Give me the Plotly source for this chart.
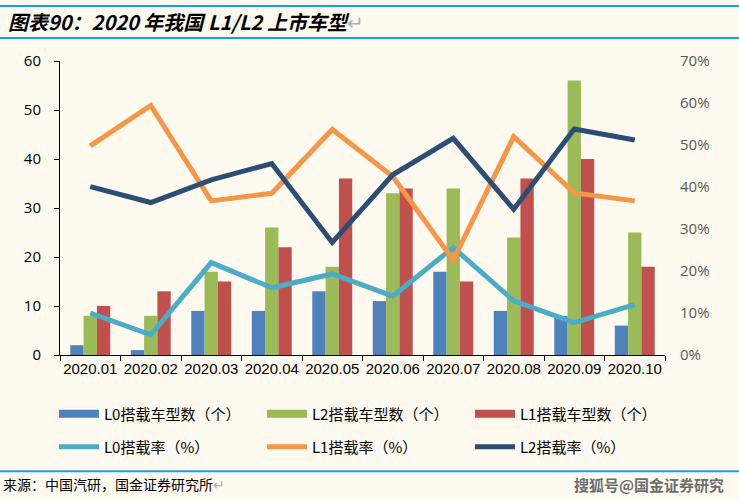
import plotly.graph_objects as go

months = ["2020.01", "2020.02", "2020.03", "2020.04", "2020.05",
          "2020.06", "2020.07", "2020.08", "2020.09", "2020.10"]
l0_count = [2, 1, 9, 9, 13, 11, 17, 9, 8, 6]
l2_count = [8, 8, 17, 26, 18, 33, 34, 24, 56, 25]
l1_count = [10, 13, 15, 22, 36, 34, 15, 36, 40, 18]
l0_rate = [0.100, 0.048, 0.220, 0.160, 0.193, 0.140, 0.256, 0.129, 0.077, 0.120]
l1_rate = [0.498, 0.594, 0.367, 0.385, 0.537, 0.425, 0.226, 0.520, 0.386, 0.367]
l2_rate = [0.401, 0.363, 0.417, 0.456, 0.268, 0.429, 0.516, 0.347, 0.538, 0.512]

BG = "#FEFAEF"
C_L0B, C_L2B, C_L1B = "#4F81BD", "#9BBB59", "#C0504D"
C_L0R, C_L1R, C_L2R = "#4BACC6", "#F79646", "#2C4D75"
CJK = "Noto Sans CJK SC"

fig = go.Figure()
for name, vals, col in [("L0搭载车型数（个）", l0_count, C_L0B),
                        ("L2搭载车型数（个）", l2_count, C_L2B),
                        ("L1搭载车型数（个）", l1_count, C_L1B)]:
    fig.add_trace(go.Bar(x=months, y=vals, marker=dict(color=col, line_width=0),
                         showlegend=False, legendgroup=name, yaxis="y"))
    fig.add_trace(go.Scatter(x=[None], y=[None], mode="lines", name=name,
                             line=dict(color=col, width=8), legendgroup=name,
                             legend="legend"))

for name, vals, col in [("L0搭载率（%）", l0_rate, C_L0R),
                        ("L1搭载率（%）", l1_rate, C_L1R),
                        ("L2搭载率（%）", l2_rate, C_L2R)]:
    fig.add_trace(go.Scatter(x=months, y=vals, mode="lines", name=name,
                             line=dict(color=col, width=5), yaxis="y2",
                             legend="legend2"))

fig.update_layout(
    width=739, height=499,
    margin=dict(l=60, r=74, t=61, b=144),
    paper_bgcolor=BG, plot_bgcolor=BG,
    barmode="group", bargap=0.34, bargroupgap=0,
    font=dict(family=CJK, size=14, color="#000000"),
    xaxis=dict(showline=True, linecolor="#000000", linewidth=1,
               ticks="outside", ticklen=5, tickcolor="#000000",
               tickson="boundaries", showgrid=False, tickangle=0,
               tickfont=dict(family="Liberation Sans", size=15, color="#000000")),
    yaxis=dict(range=[0, 60], dtick=10, showline=True, linecolor="#000000",
               linewidth=1, ticks="outside", ticklen=5, tickcolor="#000000",
               showgrid=False, zeroline=False, ticklabelstandoff=10,
               tickfont=dict(family="Open Sans", size=15, color="#000000")),
    yaxis2=dict(range=[0, 0.7], dtick=0.1, tickformat=".0%", overlaying="y",
                side="right", showline=False, showgrid=False, zeroline=False,
                ticks="", ticklabelstandoff=14,
                tickfont=dict(family="Open Sans", size=15, color="#595959")),
    legend=dict(orientation="h", x=-0.01, xanchor="left", y=-0.2007, yanchor="middle",
                entrywidth=153, itemwidth=40, bgcolor="rgba(0,0,0,0)",
                font=dict(family=CJK, size=15, color="#000000"),
                traceorder="normal"),
    legend2=dict(orientation="h", x=-0.01, xanchor="left", y=-0.313, yanchor="middle",
                 entrywidth=153, itemwidth=40, bgcolor="rgba(0,0,0,0)",
                 font=dict(family=CJK, size=15, color="#000000"),
                 traceorder="normal"),
    shapes=[
        dict(type="line", xref="paper", yref="paper", x0=-0.0992, x1=1.1223, y0=1.1869, y1=1.1869,
             line=dict(color="#19A0DC", width=2), layer="below"),
        dict(type="line", xref="paper", yref="paper", x0=-0.0992, x1=1.1223, y0=1.078, y1=1.078,
             line=dict(color="#19A0DC", width=2), layer="below"),
        dict(type="line", xref="paper", yref="paper", x0=-0.0992, x1=1.1223, y0=-0.395, y1=-0.395,
             line=dict(color="#19A0DC", width=2), layer="below"),
    ],
    annotations=[
        dict(text="<b><i>图表90：2020 年我国 L1/L2 上市车型</i></b><span style='color:#B0B0B0'>↵</span>",
             xref="paper", yref="paper", x=-0.09, y=1.133, xanchor="left", yanchor="middle",
             showarrow=False, font=dict(family=CJK, size=20, color="#000000")),
        dict(text="来源：中国汽研，国金证券研究所<span style='color:#B0B0B0'>↵</span>",
             xref="paper", yref="paper", x=-0.098, y=-0.44, xanchor="left", yanchor="middle",
             showarrow=False, font=dict(family=CJK, size=14, color="#000000")),
        dict(text="<b>搜狐号@国金证券研究</b>",
             xref="paper", yref="paper", x=1.1, y=-0.44, xanchor="right", yanchor="middle",
             showarrow=False, font=dict(family=CJK, size=15, color="#6E6E6E")),
    ],
)

fig.write_html("out.html")
